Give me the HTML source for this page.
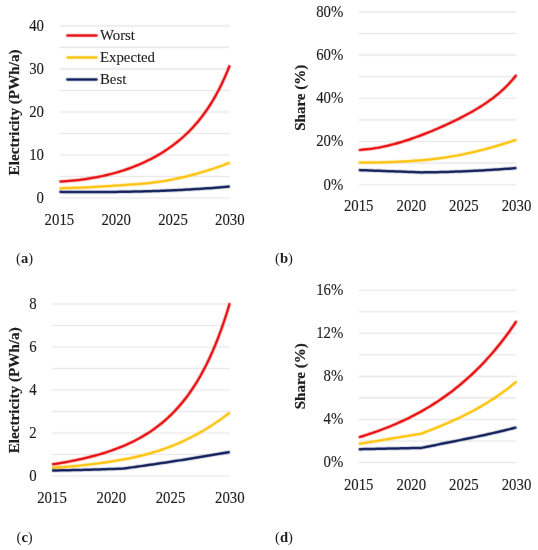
<!DOCTYPE html>
<html><head><meta charset="utf-8"><style>
html,body{margin:0;padding:0;background:#fff;width:538px;height:550px;overflow:hidden}
svg{display:block;will-change:transform;font-family:"Liberation Serif",serif;fill:#1E1E1E}
text{stroke:#1E1E1E;stroke-width:0.12px} text[font-weight=bold]{stroke-width:0.2px}
</style></head><body>
<svg width="538" height="550" viewBox="0 0 538 550">
<defs><filter id="bl" filterUnits="userSpaceOnUse" x="0" y="0" width="538" height="550" color-interpolation-filters="sRGB"><feConvolveMatrix order="3" kernelMatrix="0.04000000000000001 0.2 0.04000000000000001 0.2 1 0.2 0.04000000000000001 0.2 0.04000000000000001" divisor="1.96" edgeMode="duplicate" preserveAlpha="false"/></filter></defs>
<g filter="url(#bl)">
<rect x="0" y="0" width="538" height="550" fill="#fff"/>
<line x1="59.4" x2="229.8" y1="25.90" y2="25.90" stroke="#E2E2E2" stroke-width="1.1"/>
<line x1="59.4" x2="229.8" y1="47.41" y2="47.41" stroke="#E2E2E2" stroke-width="1.1"/>
<line x1="59.4" x2="229.8" y1="68.92" y2="68.92" stroke="#E2E2E2" stroke-width="1.1"/>
<line x1="59.4" x2="229.8" y1="90.44" y2="90.44" stroke="#E2E2E2" stroke-width="1.1"/>
<line x1="59.4" x2="229.8" y1="111.95" y2="111.95" stroke="#E2E2E2" stroke-width="1.1"/>
<line x1="59.4" x2="229.8" y1="133.46" y2="133.46" stroke="#E2E2E2" stroke-width="1.1"/>
<line x1="59.4" x2="229.8" y1="154.97" y2="154.97" stroke="#E2E2E2" stroke-width="1.1"/>
<line x1="59.4" x2="229.8" y1="176.49" y2="176.49" stroke="#E2E2E2" stroke-width="1.1"/>
<line x1="59.4" x2="229.8" y1="198.00" y2="198.00" stroke="#E2E2E2" stroke-width="1.1"/>
<line x1="67.3" x2="96.5" y1="35.4" y2="35.4" stroke="#E60000" stroke-width="2.5" stroke-linecap="round"/>
<line x1="67.3" x2="96.5" y1="57.5" y2="57.5" stroke="#FFC000" stroke-width="2.5" stroke-linecap="round"/>
<line x1="67.3" x2="96.5" y1="79.6" y2="79.6" stroke="#00104F" stroke-width="2.5" stroke-linecap="round"/>
<path d="M59.40,181.52 L62.24,181.39 L65.08,181.23 L67.92,181.04 L70.76,180.81 L73.60,180.55 L76.44,180.26 L79.28,179.94 L82.12,179.58 L84.96,179.19 L87.80,178.77 L90.64,178.31 L93.48,177.82 L96.32,177.29 L99.16,176.73 L102.00,176.14 L104.84,175.50 L107.68,174.83 L110.52,174.12 L113.36,173.37 L116.20,172.58 L119.04,171.75 L121.88,170.87 L124.72,169.95 L127.56,168.98 L130.40,167.96 L133.24,166.90 L136.08,165.78 L138.92,164.61 L141.76,163.38 L144.60,162.09 L147.44,160.74 L150.28,159.33 L153.12,157.85 L155.96,156.29 L158.80,154.67 L161.64,152.96 L164.48,151.17 L167.32,149.30 L170.16,147.33 L173.00,145.26 L175.84,143.08 L178.68,140.79 L181.52,138.39 L184.36,135.85 L187.20,133.17 L190.04,130.35 L192.88,127.36 L195.72,124.20 L198.56,120.85 L201.40,117.30 L204.24,113.52 L207.08,109.50 L209.92,105.22 L212.76,100.65 L215.60,95.75 L218.44,90.51 L221.28,84.89 L224.12,78.84 L226.96,72.32 L229.80,65.28" fill="none" stroke="#E60000" stroke-width="2.5" stroke-linecap="butt" stroke-linejoin="round"/>
<path d="M59.40,188.21 L62.24,188.15 L65.08,188.08 L67.92,188.01 L70.76,187.93 L73.60,187.84 L76.44,187.74 L79.28,187.63 L82.12,187.52 L84.96,187.40 L87.80,187.27 L90.64,187.14 L93.48,187.00 L96.32,186.85 L99.16,186.69 L102.00,186.52 L104.84,186.35 L107.68,186.17 L110.52,185.98 L113.36,185.79 L116.20,185.59 L119.04,185.38 L121.88,185.16 L124.72,184.94 L127.56,184.70 L130.40,184.58 L133.24,184.43 L136.08,184.25 L138.92,184.04 L141.76,183.80 L144.60,183.54 L147.44,183.24 L150.28,182.92 L153.12,182.58 L155.96,182.20 L158.80,181.80 L161.64,181.37 L164.48,180.91 L167.32,180.42 L170.16,179.90 L173.00,179.36 L175.84,178.79 L178.68,178.19 L181.52,177.56 L184.36,176.91 L187.20,176.23 L190.04,175.52 L192.88,174.78 L195.72,174.01 L198.56,173.22 L201.40,172.40 L204.24,171.55 L207.08,170.67 L209.92,169.76 L212.76,168.83 L215.60,167.87 L218.44,166.88 L221.28,165.86 L224.12,164.81 L226.96,163.74 L229.80,162.64" fill="none" stroke="#FFC000" stroke-width="2.5" stroke-linecap="butt" stroke-linejoin="round"/>
<path d="M59.40,191.87 L62.24,191.90 L65.08,191.93 L67.92,191.95 L70.76,191.97 L73.60,191.99 L76.44,192.00 L79.28,192.01 L82.12,192.02 L84.96,192.03 L87.80,192.03 L90.64,192.03 L93.48,192.03 L96.32,192.02 L99.16,192.01 L102.00,192.00 L104.84,191.98 L107.68,191.96 L110.52,191.94 L113.36,191.91 L116.20,191.88 L119.04,191.84 L121.88,191.80 L124.72,191.76 L127.56,191.71 L130.40,191.65 L133.24,191.60 L136.08,191.54 L138.92,191.47 L141.76,191.40 L144.60,191.33 L147.44,191.25 L150.28,191.16 L153.12,191.07 L155.96,190.98 L158.80,190.88 L161.64,190.77 L164.48,190.67 L167.32,190.55 L170.16,190.43 L173.00,190.30 L175.84,190.17 L178.68,190.04 L181.52,189.90 L184.36,189.75 L187.20,189.59 L190.04,189.43 L192.88,189.27 L195.72,189.10 L198.56,188.92 L201.40,188.74 L204.24,188.55 L207.08,188.35 L209.92,188.15 L212.76,187.94 L215.60,187.72 L218.44,187.50 L221.28,187.27 L224.12,187.04 L226.96,186.79 L229.80,186.54" fill="none" stroke="#00104F" stroke-width="2.5" stroke-linecap="butt" stroke-linejoin="round"/>
<line x1="358.7" x2="516.5" y1="11.90" y2="11.90" stroke="#E2E2E2" stroke-width="1.1"/>
<line x1="358.7" x2="516.5" y1="33.50" y2="33.50" stroke="#E2E2E2" stroke-width="1.1"/>
<line x1="358.7" x2="516.5" y1="55.10" y2="55.10" stroke="#E2E2E2" stroke-width="1.1"/>
<line x1="358.7" x2="516.5" y1="76.70" y2="76.70" stroke="#E2E2E2" stroke-width="1.1"/>
<line x1="358.7" x2="516.5" y1="98.30" y2="98.30" stroke="#E2E2E2" stroke-width="1.1"/>
<line x1="358.7" x2="516.5" y1="119.90" y2="119.90" stroke="#E2E2E2" stroke-width="1.1"/>
<line x1="358.7" x2="516.5" y1="141.50" y2="141.50" stroke="#E2E2E2" stroke-width="1.1"/>
<line x1="358.7" x2="516.5" y1="163.10" y2="163.10" stroke="#E2E2E2" stroke-width="1.1"/>
<line x1="358.7" x2="516.5" y1="184.70" y2="184.70" stroke="#E2E2E2" stroke-width="1.1"/>
<path d="M358.70,149.95 L361.33,149.81 L363.96,149.61 L366.59,149.36 L369.22,149.06 L371.85,148.71 L374.48,148.32 L377.11,147.88 L379.74,147.40 L382.37,146.87 L385.00,146.31 L387.63,145.71 L390.26,145.08 L392.89,144.40 L395.52,143.70 L398.15,142.96 L400.78,142.19 L403.41,141.38 L406.04,140.55 L408.67,139.69 L411.30,138.80 L413.93,137.88 L416.56,136.94 L419.19,135.98 L421.82,134.98 L424.45,133.97 L427.08,132.93 L429.71,131.87 L432.34,130.79 L434.97,129.69 L437.60,128.56 L440.23,127.42 L442.86,126.25 L445.49,125.06 L448.12,123.85 L450.75,122.62 L453.38,121.36 L456.01,120.08 L458.64,118.78 L461.27,117.45 L463.90,116.08 L466.53,114.69 L469.16,113.26 L471.79,111.79 L474.42,110.28 L477.05,108.73 L479.68,107.13 L482.31,105.46 L484.94,103.74 L487.57,101.95 L490.20,100.08 L492.83,98.13 L495.46,96.09 L498.09,93.94 L500.72,91.67 L503.35,89.28 L505.98,86.75 L508.61,84.06 L511.24,81.19 L513.87,78.13 L516.50,74.85" fill="none" stroke="#E60000" stroke-width="2.5" stroke-linecap="butt" stroke-linejoin="round"/>
<path d="M358.70,162.57 L361.33,162.58 L363.96,162.59 L366.59,162.58 L369.22,162.56 L371.85,162.53 L374.48,162.50 L377.11,162.45 L379.74,162.40 L382.37,162.33 L385.00,162.26 L387.63,162.17 L390.26,162.08 L392.89,161.98 L395.52,161.86 L398.15,161.74 L400.78,161.61 L403.41,161.47 L406.04,161.32 L408.67,161.16 L411.30,160.99 L413.93,160.81 L416.56,160.62 L419.19,160.42 L421.82,160.21 L424.45,159.98 L427.08,159.72 L429.71,159.45 L432.34,159.15 L434.97,158.84 L437.60,158.51 L440.23,158.16 L442.86,157.79 L445.49,157.40 L448.12,156.99 L450.75,156.56 L453.38,156.11 L456.01,155.64 L458.64,155.16 L461.27,154.65 L463.90,154.13 L466.53,153.58 L469.16,153.02 L471.79,152.44 L474.42,151.83 L477.05,151.21 L479.68,150.57 L482.31,149.91 L484.94,149.23 L487.57,148.53 L490.20,147.82 L492.83,147.08 L495.46,146.32 L498.09,145.55 L500.72,144.75 L503.35,143.94 L505.98,143.11 L508.61,142.25 L511.24,141.38 L513.87,140.49 L516.50,139.58" fill="none" stroke="#FFC000" stroke-width="2.5" stroke-linecap="butt" stroke-linejoin="round"/>
<path d="M358.70,170.04 L361.33,170.14 L363.96,170.24 L366.59,170.34 L369.22,170.44 L371.85,170.54 L374.48,170.64 L377.11,170.74 L379.74,170.84 L382.37,170.94 L385.00,171.03 L387.63,171.13 L390.26,171.23 L392.89,171.33 L395.52,171.43 L398.15,171.53 L400.78,171.62 L403.41,171.72 L406.04,171.82 L408.67,171.91 L411.30,172.01 L413.93,172.11 L416.56,172.20 L419.19,172.30 L421.82,172.40 L424.45,172.37 L427.08,172.33 L429.71,172.30 L432.34,172.25 L434.97,172.20 L437.60,172.15 L440.23,172.09 L442.86,172.02 L445.49,171.95 L448.12,171.88 L450.75,171.80 L453.38,171.71 L456.01,171.62 L458.64,171.52 L461.27,171.42 L463.90,171.31 L466.53,171.20 L469.16,171.08 L471.79,170.95 L474.42,170.82 L477.05,170.69 L479.68,170.55 L482.31,170.40 L484.94,170.25 L487.57,170.10 L490.20,169.93 L492.83,169.77 L495.46,169.59 L498.09,169.42 L500.72,169.23 L503.35,169.05 L505.98,168.85 L508.61,168.65 L511.24,168.45 L513.87,168.24 L516.50,168.02" fill="none" stroke="#00104F" stroke-width="2.5" stroke-linecap="butt" stroke-linejoin="round"/>
<line x1="52.0" x2="229.8" y1="304.00" y2="304.00" stroke="#E2E2E2" stroke-width="1.1"/>
<line x1="52.0" x2="229.8" y1="325.50" y2="325.50" stroke="#E2E2E2" stroke-width="1.1"/>
<line x1="52.0" x2="229.8" y1="347.00" y2="347.00" stroke="#E2E2E2" stroke-width="1.1"/>
<line x1="52.0" x2="229.8" y1="368.50" y2="368.50" stroke="#E2E2E2" stroke-width="1.1"/>
<line x1="52.0" x2="229.8" y1="390.00" y2="390.00" stroke="#E2E2E2" stroke-width="1.1"/>
<line x1="52.0" x2="229.8" y1="411.50" y2="411.50" stroke="#E2E2E2" stroke-width="1.1"/>
<line x1="52.0" x2="229.8" y1="433.00" y2="433.00" stroke="#E2E2E2" stroke-width="1.1"/>
<line x1="52.0" x2="229.8" y1="454.50" y2="454.50" stroke="#E2E2E2" stroke-width="1.1"/>
<line x1="52.0" x2="229.8" y1="476.00" y2="476.00" stroke="#E2E2E2" stroke-width="1.1"/>
<path d="M52.00,464.36 L54.96,463.91 L57.93,463.44 L60.89,462.95 L63.85,462.44 L66.82,461.91 L69.78,461.36 L72.74,460.78 L75.71,460.19 L78.67,459.56 L81.63,458.91 L84.60,458.23 L87.56,457.53 L90.52,456.79 L93.49,456.02 L96.45,455.21 L99.41,454.37 L102.38,453.49 L105.34,452.57 L108.30,451.61 L111.27,450.60 L114.23,449.55 L117.19,448.44 L120.16,447.28 L123.12,446.07 L126.08,444.79 L129.05,443.45 L132.01,442.04 L134.97,440.57 L137.94,439.01 L140.90,437.38 L143.86,435.66 L146.83,433.84 L149.79,431.94 L152.75,429.92 L155.72,427.80 L158.68,425.56 L161.64,423.20 L164.61,420.70 L167.57,418.07 L170.53,415.28 L173.50,412.32 L176.46,409.20 L179.42,405.89 L182.39,402.38 L185.35,398.65 L188.31,394.71 L191.28,390.51 L194.24,386.06 L197.20,381.32 L200.17,376.28 L203.13,370.92 L206.09,365.21 L209.06,359.12 L212.02,352.63 L214.98,345.70 L217.95,338.30 L220.91,330.39 L223.87,321.94 L226.84,312.90 L229.80,303.21" fill="none" stroke="#E60000" stroke-width="2.5" stroke-linecap="butt" stroke-linejoin="round"/>
<path d="M52.00,467.72 L54.96,467.55 L57.93,467.36 L60.89,467.17 L63.85,466.95 L66.82,466.73 L69.78,466.48 L72.74,466.23 L75.71,465.96 L78.67,465.67 L81.63,465.37 L84.60,465.05 L87.56,464.72 L90.52,464.37 L93.49,464.01 L96.45,463.63 L99.41,463.24 L102.38,462.84 L105.34,462.42 L108.30,461.98 L111.27,461.53 L114.23,461.07 L117.19,460.58 L120.16,460.09 L123.12,459.58 L126.08,459.03 L129.05,458.44 L132.01,457.83 L134.97,457.18 L137.94,456.50 L140.90,455.79 L143.86,455.04 L146.83,454.25 L149.79,453.42 L152.75,452.56 L155.72,451.65 L158.68,450.71 L161.64,449.72 L164.61,448.68 L167.57,447.60 L170.53,446.48 L173.50,445.31 L176.46,444.09 L179.42,442.82 L182.39,441.49 L185.35,440.12 L188.31,438.70 L191.28,437.22 L194.24,435.68 L197.20,434.09 L200.17,432.44 L203.13,430.74 L206.09,428.97 L209.06,427.14 L212.02,425.25 L214.98,423.30 L217.95,421.28 L220.91,419.20 L223.87,417.05 L226.84,414.84 L229.80,412.55" fill="none" stroke="#FFC000" stroke-width="2.5" stroke-linecap="butt" stroke-linejoin="round"/>
<path d="M52.00,470.50 L54.96,470.46 L57.93,470.40 L60.89,470.35 L63.85,470.29 L66.82,470.23 L69.78,470.17 L72.74,470.11 L75.71,470.04 L78.67,469.97 L81.63,469.89 L84.60,469.82 L87.56,469.74 L90.52,469.66 L93.49,469.57 L96.45,469.49 L99.41,469.40 L102.38,469.31 L105.34,469.21 L108.30,469.11 L111.27,469.01 L114.23,468.91 L117.19,468.80 L120.16,468.69 L123.12,468.58 L126.08,468.18 L129.05,467.78 L132.01,467.37 L134.97,466.96 L137.94,466.54 L140.90,466.13 L143.86,465.70 L146.83,465.28 L149.79,464.85 L152.75,464.42 L155.72,463.98 L158.68,463.54 L161.64,463.10 L164.61,462.65 L167.57,462.20 L170.53,461.75 L173.50,461.29 L176.46,460.83 L179.42,460.37 L182.39,459.90 L185.35,459.43 L188.31,458.95 L191.28,458.47 L194.24,457.99 L197.20,457.51 L200.17,457.02 L203.13,456.52 L206.09,456.03 L209.06,455.53 L212.02,455.02 L214.98,454.52 L217.95,454.01 L220.91,453.49 L223.87,452.98 L226.84,452.45 L229.80,451.93" fill="none" stroke="#00104F" stroke-width="2.5" stroke-linecap="butt" stroke-linejoin="round"/>
<line x1="358.7" x2="516.5" y1="290.20" y2="290.20" stroke="#E2E2E2" stroke-width="1.1"/>
<line x1="358.7" x2="516.5" y1="311.74" y2="311.74" stroke="#E2E2E2" stroke-width="1.1"/>
<line x1="358.7" x2="516.5" y1="333.27" y2="333.27" stroke="#E2E2E2" stroke-width="1.1"/>
<line x1="358.7" x2="516.5" y1="354.81" y2="354.81" stroke="#E2E2E2" stroke-width="1.1"/>
<line x1="358.7" x2="516.5" y1="376.35" y2="376.35" stroke="#E2E2E2" stroke-width="1.1"/>
<line x1="358.7" x2="516.5" y1="397.89" y2="397.89" stroke="#E2E2E2" stroke-width="1.1"/>
<line x1="358.7" x2="516.5" y1="419.43" y2="419.43" stroke="#E2E2E2" stroke-width="1.1"/>
<line x1="358.7" x2="516.5" y1="440.96" y2="440.96" stroke="#E2E2E2" stroke-width="1.1"/>
<line x1="358.7" x2="516.5" y1="462.50" y2="462.50" stroke="#E2E2E2" stroke-width="1.1"/>
<path d="M358.70,437.34 L361.33,436.55 L363.96,435.74 L366.59,434.90 L369.22,434.04 L371.85,433.16 L374.48,432.26 L377.11,431.33 L379.74,430.37 L382.37,429.39 L385.00,428.39 L387.63,427.35 L390.26,426.29 L392.89,425.20 L395.52,424.08 L398.15,422.93 L400.78,421.75 L403.41,420.53 L406.04,419.29 L408.67,418.01 L411.30,416.70 L413.93,415.35 L416.56,413.96 L419.19,412.54 L421.82,411.08 L424.45,409.58 L427.08,408.04 L429.71,406.46 L432.34,404.84 L434.97,403.17 L437.60,401.46 L440.23,399.70 L442.86,397.89 L445.49,396.04 L448.12,394.13 L450.75,392.18 L453.38,390.17 L456.01,388.10 L458.64,385.98 L461.27,383.80 L463.90,381.56 L466.53,379.26 L469.16,376.90 L471.79,374.47 L474.42,371.98 L477.05,369.41 L479.68,366.78 L482.31,364.07 L484.94,361.29 L487.57,358.43 L490.20,355.48 L492.83,352.46 L495.46,349.35 L498.09,346.15 L500.72,342.87 L503.35,339.48 L505.98,336.01 L508.61,332.43 L511.24,328.75 L513.87,324.96 L516.50,321.07" fill="none" stroke="#E60000" stroke-width="2.5" stroke-linecap="butt" stroke-linejoin="round"/>
<path d="M358.70,443.98 L361.33,443.54 L363.96,443.11 L366.59,442.67 L369.22,442.23 L371.85,441.79 L374.48,441.36 L377.11,440.92 L379.74,440.48 L382.37,440.04 L385.00,439.61 L387.63,439.17 L390.26,438.73 L392.89,438.29 L395.52,437.86 L398.15,437.42 L400.78,436.98 L403.41,436.55 L406.04,436.11 L408.67,435.67 L411.30,435.23 L413.93,434.80 L416.56,434.36 L419.19,433.92 L421.82,433.48 L424.45,432.46 L427.08,431.44 L429.71,430.40 L432.34,429.36 L434.97,428.31 L437.60,427.24 L440.23,426.16 L442.86,425.06 L445.49,423.94 L448.12,422.81 L450.75,421.65 L453.38,420.48 L456.01,419.28 L458.64,418.05 L461.27,416.80 L463.90,415.52 L466.53,414.21 L469.16,412.86 L471.79,411.49 L474.42,410.08 L477.05,408.63 L479.68,407.15 L482.31,405.63 L484.94,404.06 L487.57,402.46 L490.20,400.81 L492.83,399.11 L495.46,397.37 L498.09,395.58 L500.72,393.73 L503.35,391.84 L505.98,389.90 L508.61,387.89 L511.24,385.84 L513.87,383.72 L516.50,381.54" fill="none" stroke="#FFC000" stroke-width="2.5" stroke-linecap="butt" stroke-linejoin="round"/>
<path d="M358.70,449.23 L361.33,449.17 L363.96,449.12 L366.59,449.06 L369.22,449.01 L371.85,448.95 L374.48,448.89 L377.11,448.84 L379.74,448.78 L382.37,448.72 L385.00,448.67 L387.63,448.61 L390.26,448.56 L392.89,448.50 L395.52,448.44 L398.15,448.39 L400.78,448.33 L403.41,448.27 L406.04,448.22 L408.67,448.16 L411.30,448.11 L413.93,448.05 L416.56,447.99 L419.19,447.94 L421.82,447.88 L424.45,447.33 L427.08,446.78 L429.71,446.24 L432.34,445.70 L434.97,445.16 L437.60,444.63 L440.23,444.10 L442.86,443.57 L445.49,443.04 L448.12,442.51 L450.75,441.98 L453.38,441.45 L456.01,440.92 L458.64,440.39 L461.27,439.86 L463.90,439.32 L466.53,438.79 L469.16,438.25 L471.79,437.70 L474.42,437.15 L477.05,436.60 L479.68,436.04 L482.31,435.48 L484.94,434.91 L487.57,434.33 L490.20,433.74 L492.83,433.15 L495.46,432.55 L498.09,431.94 L500.72,431.32 L503.35,430.70 L505.98,430.06 L508.61,429.41 L511.24,428.75 L513.87,428.08 L516.50,427.40" fill="none" stroke="#00104F" stroke-width="2.5" stroke-linecap="butt" stroke-linejoin="round"/>
</g>
<g>
<text x="0" y="0" text-anchor="end" font-size="14.8" font-weight="normal" transform="translate(44 30.8) scale(1 1.07)" >40</text>
<text x="0" y="0" text-anchor="end" font-size="14.8" font-weight="normal" transform="translate(44 73.8) scale(1 1.07)" >30</text>
<text x="0" y="0" text-anchor="end" font-size="14.8" font-weight="normal" transform="translate(44 116.9) scale(1 1.07)" >20</text>
<text x="0" y="0" text-anchor="end" font-size="14.8" font-weight="normal" transform="translate(44 159.9) scale(1 1.07)" >10</text>
<text x="0" y="0" text-anchor="end" font-size="14.8" font-weight="normal" transform="translate(44 202.9) scale(1 1.07)" >0</text>
<text x="0" y="0" text-anchor="middle" font-size="14.8" font-weight="normal" transform="translate(59.4 224.7) scale(1 1.07)" >2015</text>
<text x="0" y="0" text-anchor="middle" font-size="14.8" font-weight="normal" transform="translate(116.2 224.7) scale(1 1.07)" >2020</text>
<text x="0" y="0" text-anchor="middle" font-size="14.8" font-weight="normal" transform="translate(173.0 224.7) scale(1 1.07)" >2025</text>
<text x="0" y="0" text-anchor="middle" font-size="14.8" font-weight="normal" transform="translate(229.8 224.7) scale(1 1.07)" >2030</text>
<text x="0" y="0" text-anchor="middle" font-size="15.2" font-weight="bold" transform="translate(19.3 112.4) rotate(-90) scale(1 1)" >Electricity (PWh/a)</text>
<text x="0" y="0" text-anchor="start" font-size="14.8" font-weight="normal" transform="translate(100 39.7) scale(1 0.95)" >Worst</text>
<text x="0" y="0" text-anchor="start" font-size="14.8" font-weight="normal" transform="translate(100 61.8) scale(1 0.95)" >Expected</text>
<text x="0" y="0" text-anchor="start" font-size="14.8" font-weight="normal" transform="translate(100 83.9) scale(1 0.95)" >Best</text>
<text x="0" y="0" text-anchor="start" font-size="14.6" font-weight="normal" transform="translate(16 263.4) scale(1 1)" style="stroke-width:0">(<tspan font-weight="bold">a</tspan>)</text>
<text x="0" y="0" text-anchor="end" font-size="14.8" font-weight="normal" transform="translate(343.3 16.8) scale(1 1.07)" >80%</text>
<text x="0" y="0" text-anchor="end" font-size="14.8" font-weight="normal" transform="translate(343.3 60.0) scale(1 1.07)" >60%</text>
<text x="0" y="0" text-anchor="end" font-size="14.8" font-weight="normal" transform="translate(343.3 103.2) scale(1 1.07)" >40%</text>
<text x="0" y="0" text-anchor="end" font-size="14.8" font-weight="normal" transform="translate(343.3 146.4) scale(1 1.07)" >20%</text>
<text x="0" y="0" text-anchor="end" font-size="14.8" font-weight="normal" transform="translate(343.3 189.6) scale(1 1.07)" >0%</text>
<text x="0" y="0" text-anchor="middle" font-size="14.8" font-weight="normal" transform="translate(358.7 211.4) scale(1 1.07)" >2015</text>
<text x="0" y="0" text-anchor="middle" font-size="14.8" font-weight="normal" transform="translate(411.3 211.4) scale(1 1.07)" >2020</text>
<text x="0" y="0" text-anchor="middle" font-size="14.8" font-weight="normal" transform="translate(463.9 211.4) scale(1 1.07)" >2025</text>
<text x="0" y="0" text-anchor="middle" font-size="14.8" font-weight="normal" transform="translate(516.5 211.4) scale(1 1.07)" >2030</text>
<text x="0" y="0" text-anchor="middle" font-size="15" font-weight="bold" transform="translate(305.2 97.8) rotate(-90) scale(1 1)" >Share (%)</text>
<text x="0" y="0" text-anchor="start" font-size="14.6" font-weight="normal" transform="translate(275 263.4) scale(1 1)" style="stroke-width:0">(<tspan font-weight="bold">b</tspan>)</text>
<text x="0" y="0" text-anchor="end" font-size="14.8" font-weight="normal" transform="translate(36.6 308.8) scale(1 1.07)" >8</text>
<text x="0" y="0" text-anchor="end" font-size="14.8" font-weight="normal" transform="translate(36.6 351.8) scale(1 1.07)" >6</text>
<text x="0" y="0" text-anchor="end" font-size="14.8" font-weight="normal" transform="translate(36.6 394.8) scale(1 1.07)" >4</text>
<text x="0" y="0" text-anchor="end" font-size="14.8" font-weight="normal" transform="translate(36.6 437.8) scale(1 1.07)" >2</text>
<text x="0" y="0" text-anchor="end" font-size="14.8" font-weight="normal" transform="translate(36.6 480.8) scale(1 1.07)" >0</text>
<text x="0" y="0" text-anchor="middle" font-size="14.8" font-weight="normal" transform="translate(52.0 502.9) scale(1 1.07)" >2015</text>
<text x="0" y="0" text-anchor="middle" font-size="14.8" font-weight="normal" transform="translate(111.3 502.9) scale(1 1.07)" >2020</text>
<text x="0" y="0" text-anchor="middle" font-size="14.8" font-weight="normal" transform="translate(170.5 502.9) scale(1 1.07)" >2025</text>
<text x="0" y="0" text-anchor="middle" font-size="14.8" font-weight="normal" transform="translate(229.8 502.9) scale(1 1.07)" >2030</text>
<text x="0" y="0" text-anchor="middle" font-size="15.2" font-weight="bold" transform="translate(19.3 390.3) rotate(-90) scale(1 1)" >Electricity (PWh/a)</text>
<text x="0" y="0" text-anchor="start" font-size="14.6" font-weight="normal" transform="translate(16.5 541.7) scale(1 1)" style="stroke-width:0">(<tspan font-weight="bold">c</tspan>)</text>
<text x="0" y="0" text-anchor="end" font-size="14.8" font-weight="normal" transform="translate(343.3 295.1) scale(1 1.07)" >16%</text>
<text x="0" y="0" text-anchor="end" font-size="14.8" font-weight="normal" transform="translate(343.3 338.2) scale(1 1.07)" >12%</text>
<text x="0" y="0" text-anchor="end" font-size="14.8" font-weight="normal" transform="translate(343.3 381.2) scale(1 1.07)" >8%</text>
<text x="0" y="0" text-anchor="end" font-size="14.8" font-weight="normal" transform="translate(343.3 424.3) scale(1 1.07)" >4%</text>
<text x="0" y="0" text-anchor="end" font-size="14.8" font-weight="normal" transform="translate(343.3 467.4) scale(1 1.07)" >0%</text>
<text x="0" y="0" text-anchor="middle" font-size="14.8" font-weight="normal" transform="translate(358.7 489.6) scale(1 1.07)" >2015</text>
<text x="0" y="0" text-anchor="middle" font-size="14.8" font-weight="normal" transform="translate(411.3 489.6) scale(1 1.07)" >2020</text>
<text x="0" y="0" text-anchor="middle" font-size="14.8" font-weight="normal" transform="translate(463.9 489.6) scale(1 1.07)" >2025</text>
<text x="0" y="0" text-anchor="middle" font-size="14.8" font-weight="normal" transform="translate(516.5 489.6) scale(1 1.07)" >2030</text>
<text x="0" y="0" text-anchor="middle" font-size="15" font-weight="bold" transform="translate(305.2 376.3) rotate(-90) scale(1 1)" >Share (%)</text>
<text x="0" y="0" text-anchor="start" font-size="14.6" font-weight="normal" transform="translate(275 541.7) scale(1 1)" style="stroke-width:0">(<tspan font-weight="bold">d</tspan>)</text>
</g>
</svg>
</body></html>
